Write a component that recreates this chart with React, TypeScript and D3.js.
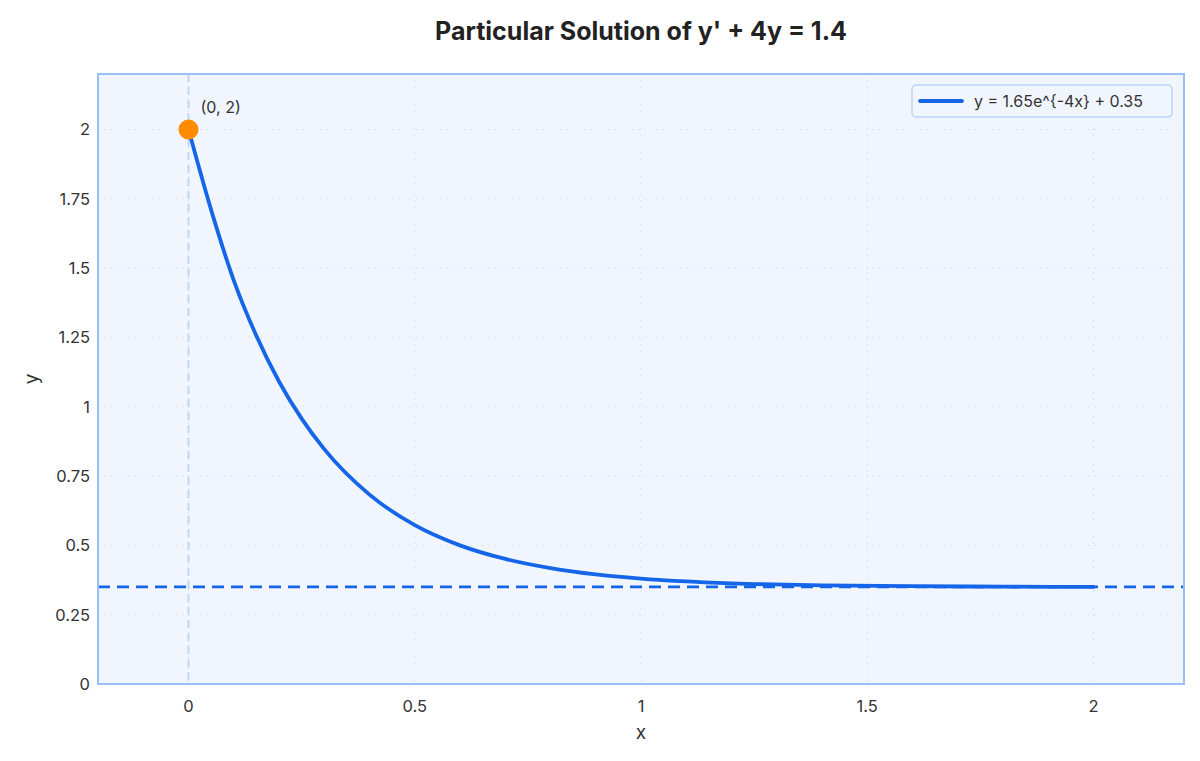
import * as d3 from "d3";

// values
const xValues = [0, 0.05, 0.1, 0.15, 0.2, 0.25, 0.3, 0.4, 0.5, 0.6, 0.7, 0.8, 0.9, 1.0, 1.2, 1.4, 1.6, 1.8, 2.0];
const yValues = [2.0, 1.71, 1.456, 1.256, 1.091, 0.957, 0.847, 0.683, 0.573, 0.500, 0.451, 0.418, 0.395, 0.380, 0.363, 0.356, 0.353, 0.351, 0.350];
const xTicks = [0, 0.5, 1, 1.5, 2];
const yTicks = [0, 0.25, 0.5, 0.75, 1, 1.25, 1.5, 1.75, 2];
const steadyState = 0.35;
const initialPoint = { x: 0, y: 2, label: "(0, 2)" };
const legendLabel = "y = 1.65e^{-4x} + 0.35";
const title = "Particular Solution of y' + 4y = 1.4";

const W = 1200;
const H = 761;
const m = { left: 98, right: 16, top: 74, bottom: 77 };
const font = "Inter, 'Noto Sans', sans-serif";

export default function App() {
  const x = d3.scaleLinear().domain([-0.2, 2.2]).range([m.left, W - m.right]);
  const y = d3.scaleLinear().domain([0, 2.2]).range([H - m.bottom, m.top]);

  const line = d3
    .line<number>()
    .x((_, i) => x(xValues[i]))
    .y((d) => y(d))
    .curve(d3.curveMonotoneX);

  const fmt = (v: number) => String(v);
  const plotW = W - m.left - m.right;
  const plotH = H - m.top - m.bottom;

  return (
    <svg width={W} height={H} style={{ position: "absolute", left: 0, top: 0, background: "#fff" }}>
      <text x={m.left + plotW / 2} y={40} textAnchor="middle" fontFamily={font} fontSize={25} fontWeight={700} fill="#222">
        {title}
      </text>

      <rect x={m.left} y={m.top} width={plotW} height={plotH} fill="#f1f6fe" />

      {/* grid */}
      {xTicks.map((t) => (
        <line key={`gx${t}`} x1={x(t)} x2={x(t)} y1={m.top} y2={H - m.bottom} stroke="#dde3ec" strokeWidth={1} strokeDasharray="2,4" />
      ))}
      {yTicks.map((t) => (
        <line key={`gy${t}`} x1={m.left} x2={W - m.right} y1={y(t)} y2={y(t)} stroke="#dde3ec" strokeWidth={1} strokeDasharray="2,4" />
      ))}

      {/* x = 0 marker line */}
      <line x1={x(0)} x2={x(0)} y1={m.top} y2={H - m.bottom} stroke="#c0d6f7" strokeWidth={2} strokeDasharray="8,5" />

      {/* steady state */}
      <line x1={m.left} x2={W - m.right} y1={y(steadyState)} y2={y(steadyState)} stroke="#1565e8" strokeWidth={2.8} strokeDasharray="12,7" />

      <path d={line(yValues) ?? ""} fill="none" stroke="#1565e8" strokeWidth={3.8} strokeLinecap="round" />

      <circle cx={x(initialPoint.x)} cy={y(initialPoint.y)} r={10} fill="#ff8c00" />
      <text x={x(initialPoint.x) + 12} y={y(initialPoint.y) - 16} fontFamily={font} fontSize={16} fill="#333">
        {initialPoint.label}
      </text>

      <rect x={m.left} y={m.top} width={plotW} height={plotH} fill="none" stroke="#9bbff5" strokeWidth={2} />

      {/* ticks */}
      {xTicks.map((t) => (
        <text key={`tx${t}`} x={x(t)} y={H - m.bottom + 28} textAnchor="middle" fontFamily={font} fontSize={16.5} fill="#333">
          {fmt(t)}
        </text>
      ))}
      {yTicks.map((t) => (
        <text key={`ty${t}`} x={m.left - 8} y={y(t) + 6} textAnchor="end" fontFamily={font} fontSize={16.5} fill="#333">
          {fmt(t)}
        </text>
      ))}

      <text x={m.left + plotW / 2} y={739} textAnchor="middle" fontFamily={font} fontSize={19} fill="#333">x</text>
      <text transform={`translate(38, ${m.top + plotH / 2}) rotate(-90)`} textAnchor="middle" fontFamily={font} fontSize={19} fill="#333">y</text>

      {/* legend */}
      <g transform="translate(912, 85)">
        <rect x={0} y={0} width={260} height={32} rx={4} fill="#f1f6fe" stroke="#bcd3f7" strokeWidth={1.5} />
        <line x1={8} x2={50} y1={16} y2={16} stroke="#1565e8" strokeWidth={3.8} strokeLinecap="round" />
        <text x={62} y={21.5} fontFamily={font} fontSize={16} fill="#333">{legendLabel}</text>
      </g>
    </svg>
  );
}
